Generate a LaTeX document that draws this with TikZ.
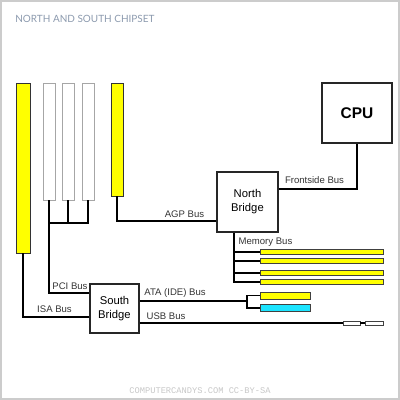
\documentclass[tikz,border=0pt]{standalone}
\usepackage{fontspec}
\setmainfont{Liberation Sans}
\newfontfamily\titlefont{Lato}
\newfontfamily\footfont{Liberation Mono}
\usetikzlibrary{calc,positioning}

\definecolor{slotyellow}{HTML}{FFFF00}
\definecolor{idecyan}{HTML}{1CE4FF}
\definecolor{titlegray}{HTML}{8C9AAE}
\definecolor{framegray}{HTML}{CCCCCC}
\definecolor{labelgray}{HTML}{333333}

\tikzset{
  sz/.style 2 args={minimum width=#1*0.025cm, minimum height=#2*0.025cm},
  chip/.style={draw=black!85, line width=0.9pt, fill=white, inner sep=0pt, align=center,
    font=\fontsize{8}{10}\selectfont},
  slot/.style={draw=black!80, line width=0.6pt, fill=slotyellow, inner sep=0pt},
  pcislot/.style={draw=black!35, line width=0.6pt, fill=white, inner sep=0pt},
  bar/.style={draw=black!75, line width=0.6pt, inner sep=0pt},
  busline/.style={line width=1.4pt, black},
  buslabel/.style={text=labelgray, inner sep=0pt, font=\fontsize{6.8}{8}\selectfont},
}

\begin{document}
\begin{tikzpicture}[x=0.025cm, y=-0.025cm]
    \useasboundingbox (0,0) rectangle (400,400);
    \draw[framegray, line width=1.2pt] (0.8,0.8) rectangle (399.2,399.2);
    \node[anchor=west, inner sep=0pt, text=titlegray, font=\titlefont\fontsize{7.1}{9}\selectfont]
      (title) at (15,18.5) {NORTH AND SOUTH CHIPSET};

    % expansion slots
    \node[slot, sz={14}{170}] (isa) at (23,168) {};
    \node[pcislot, sz={12}{117}] (pci1) at (49,141.5) {};
    \node[pcislot, sz={12}{117}] (pci2) at (68,141.5) {};
    \node[pcislot, sz={12}{117}] (pci3) at (88,141.5) {};
    \node[slot, sz={12}{113}] (agp) at (117,139.5) {};

    % chips
    \node[chip, sz={70}{60}, font=\bfseries\fontsize{11}{13}\selectfont]
      (cpu) at (357,113) {CPU};
    \node[chip, sz={61}{60}] (nb) at (247.5,202) {North\\Bridge};
    \node[chip, sz={49}{49}] (sb) at (114.5,308.5) {South\\Bridge};

    % memory sticks
    \foreach \i/\y in {1/252,2/261,3/273,4/282}
      \node[bar, fill=slotyellow, sz={123}{5}] (mem\i) at (321.5,\y) {};

    % drives and usb ports
    \node[bar, fill=slotyellow, sz={50}{7}] (ide1) at (285,295.5) {};
    \node[bar, fill=idecyan, sz={50}{7}] (ide2) at (285,308) {};
    \node[bar, fill=white, sz={17}{4}] (usb1) at (351.5,323) {};
    \node[bar, fill=white, sz={18}{4}] (usb2) at (374,323) {};

    % buses
    \coordinate (pcijoin) at (49,223);
    \draw[busline] (pci1.south) |- (pci3.south |- pcijoin) -- (pci3.south);
    \draw[busline] (pci2.south) -- (pci2.south |- pcijoin);
    \draw[busline] (pci1.south) |- ($(sb.west)+(0,-15.5)$);
    \draw[busline] (isa.south) |- ($(sb.west)+(0,8.5)$);
    \draw[busline] (agp.south) |- ($(nb.west)+(0,19)$);
    \draw[busline] ($(nb.east)+(0,-13)$) -| (cpu.south);

    \coordinate (memtop) at ($(nb.south)+(-13.5,0)$);
    \draw[busline] (memtop) |- (mem4.west);
    \foreach \i in {1,2,3}
      \draw[busline] (memtop |- mem\i.west) -- (mem\i.west);

    \coordinate (atajoin) at (247,301);
    \draw[busline] (sb.east |- atajoin) -- (atajoin);
    \draw[busline] (ide1.west) -| (atajoin) |- (ide2.west);
    \draw[busline] (sb.east |- usb1.west) -- (usb1.west);
    \draw[busline] (usb1.east) -- (usb2.west);

    % bus labels
    \node[buslabel] (pcilbl) at (70,286) {PCI Bus};
    \node[buslabel] (isalbl) at (54.5,309) {ISA Bus};
    \node[buslabel] (agplbl) at (184.5,214.5) {AGP Bus};
    \node[buslabel] (fsblbl) at (314.5,180.5) {Frontside Bus};
    \node[buslabel] (memlbl) at (265.5,242.5) {Memory Bus};
    \node[buslabel] (atalbl) at (175,293.5) {ATA (IDE) Bus};
    \node[buslabel] (usblbl) at (166,316.5) {USB Bus};

    \node[text=black!22, inner sep=0pt, font=\footfont\fontsize{6.2}{7}\selectfont]
      (credit) at (200,391) {COMPUTERCANDYS.COM CC-BY-SA};
\end{tikzpicture}
\end{document}
